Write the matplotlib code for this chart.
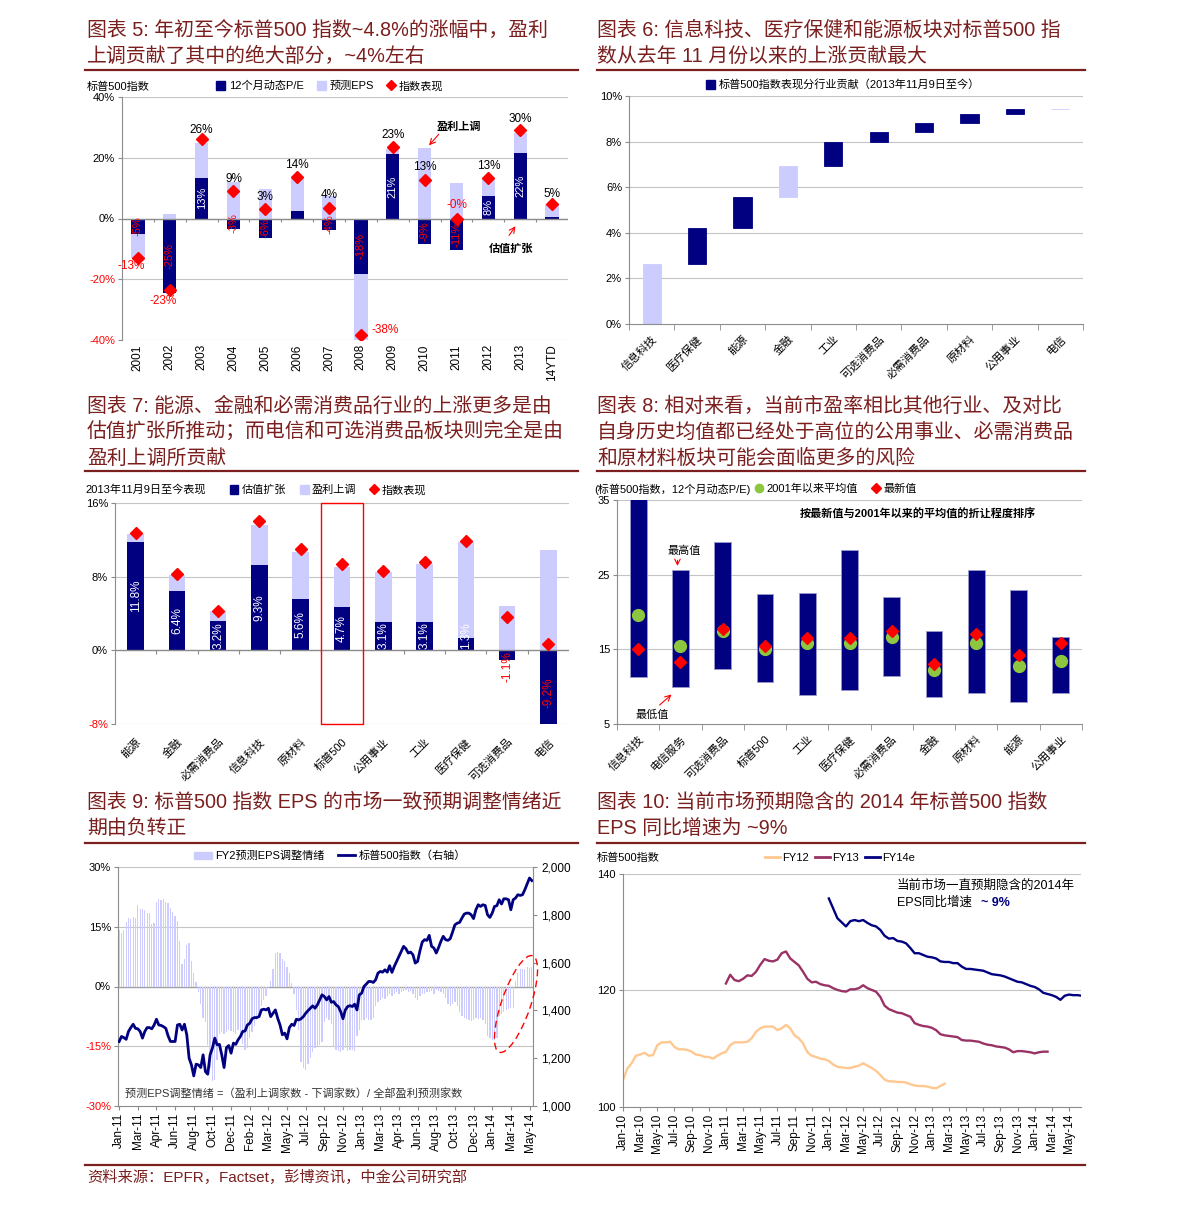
import numpy as np
import pandas as pd
import matplotlib
matplotlib.use('Agg')
import matplotlib.pyplot as plt
from matplotlib.patches import Rectangle, Ellipse, Patch
from matplotlib.lines import Line2D

plt.rcParams['font.family'] = ['Liberation Sans', 'Noto Sans CJK SC', 'DejaVu Sans']
plt.rcParams['axes.unicode_minus'] = False

# ------------------------------------------------------------------ data
title5 = ["图表 5: 年初至今标普500 指数~4.8%的涨幅中，盈利", "上调贡献了其中的绝大部分，~4%左右"]
title6 = ["图表 6: 信息科技、医疗保健和能源板块对标普500 指", "数从去年 11 月份以来的上涨贡献最大"]
title7 = ["图表 7: 能源、金融和必需消费品行业的上涨更多是由", "估值扩张所推动；而电信和可选消费品板块则完全是由", "盈利上调所贡献"]
title8 = ["图表 8: 相对来看，当前市盈率相比其他行业、及对比", "自身历史均值都已经处于高位的公用事业、必需消费品", "和原材料板块可能会面临更多的风险"]
title9 = ["图表 9: 标普500 指数 EPS 的市场一致预期调整情绪近", "期由负转正"]
title10 = ["图表 10: 当前市场预期隐含的 2014 年标普500 指数", "EPS 同比增速为 ~9%"]
source_txt = "资料来源：EPFR，Factset，彭博资讯，中金公司研究部"

# Panel 5
years5 = ['2001', '2002', '2003', '2004', '2005', '2006', '2007', '2008', '2009', '2010', '2011', '2012', '2013', '14YTD']
pe5 = [-5.1, -24.4, 13.3, -3.3, -6.3, 2.4, -3.9, -18.2, 21.1, -8.5, -10.4, 7.5, 21.5, 0.5]
eps5 = [-7.8, 1.4, 11.4, 12.0, 9.8, 10.7, 7.4, -21.7, 1.9, 23.2, 11.6, 5.4, 6.6, 4.2]
idx5 = [-12.9, -23.5, 26.2, 9.0, 3.0, 13.5, 3.5, -38.5, 23.5, 12.6, 0.0, 13.3, 29.3, 4.8]
pe5_lbl = ['-5%', '-25%', '13%', '-3%', '-6%', '', '-4%', '-18%', '21%', '-9%', '-11%', '8%', '22%', '']
idx5_lbl = ['-13%', '-23%', '26%', '9%', '3%', '14%', '4%', '-38%', '23%', '13%', '-0%', '13%', '30%', '5%']

# Panel 6
sect6 = ['信息科技', '医疗保健', '能源', '金融', '工业', '可选消费品', '必需消费品', '原材料', '公用事业', '电信']
contrib6 = [2.64, 1.57, 1.34, 1.37, 1.05, 0.43, 0.40, 0.40, 0.25, -0.03]

# Panel 7
sect7 = ['能源', '金融', '必需消费品', '信息科技', '原材料', '标普500', '公用事业', '工业', '医疗保健', '可选消费品', '电信']
pe7 = [11.8, 6.4, 3.2, 9.3, 5.6, 4.7, 3.1, 3.1, 1.3, -1.1, -9.2]
eps7 = [0.8, 1.8, 1.1, 4.3, 5.05, 4.4, 5.4, 6.3, 10.5, 4.8, 10.9]
idx7 = [12.7, 8.3, 4.3, 14.0, 11.0, 9.35, 8.66, 9.6, 11.9, 3.66, 0.72]

# Panel 8
sect8 = ['信息科技', '电信服务', '可选消费品', '标普500', '工业', '医疗保健', '必需消费品', '金融', '原材料', '能源', '公用事业']
pe_high8 = [35.5, 25.6, 29.4, 22.4, 22.6, 28.3, 22.0, 17.4, 25.6, 23.0, 16.7]
pe_low8 = [11.25, 9.9, 12.3, 10.6, 8.9, 9.6, 11.4, 8.6, 9.2, 7.9, 9.1]
avg8 = [19.6, 15.5, 17.5, 15.0, 15.9, 15.9, 16.65, 12.2, 15.9, 12.8, 13.5]
latest8 = [15.1, 13.3, 17.7, 15.4, 16.5, 16.5, 17.4, 13.0, 17.0, 14.3, 15.8]

# Panel 9 (weekly, from 2011-01-07)
sentiment9 = [
    14.2, 13.5, 14.3, 16.3, 17.1, 16.9, 17.4, 17.1,
    20.5, 19.4, 19.4, 19.2, 18.4, 18.4, 15.8, 16.0,
    21.3, 21.9, 21.7, 21.9, 21.3, 20.9, 19.6, 18.8,
    17.8, 16.5, 11.5, 5.7, 6.9, 10.4, 10.8, 6.4,
    3.3, 1.2, -1.5, -4.5, -7.8, -8.9, -14.8, -20.5,
    -23.8, -23.5, -18.5, -12.0, -11.5, -11.8, -11.5, -11.0,
    -11.2, -11.5, -12.0, -11.0, -13.0, -14.5, -16.0, -15.5,
    -13.0, -11.5, -10.0, -8.5, -8.0, -5.0, -3.5, -2.5,
    -0.5, 1.5, 4.5, 8.3, 8.7, 8.5, 7.0, 6.5,
    5.0, 3.5, 1.0, -2.0, -6.0, -11.0, -19.0, -20.5,
    -21.0, -19.5, -18.0, -16.5, -15.5, -15.0, -14.8, -14.0,
    -9.0, -8.0, -8.5, -9.5, -15.0, -16.0, -16.3, -16.5,
    -16.0, -15.5, -16.2, -16.0, -16.0, -16.2, -12.5, -11.0,
    -8.5, -8.5, -8.0, -8.5, -8.5, -8.0, -5.0, -3.8,
    -3.5, -3.0, -3.2, -2.5, -2.0, -2.5, -2.0, -1.5,
    -1.8, -1.5, -1.2, -1.0, -1.5, -1.2, -2.0, -3.0,
    -3.5, -2.5, -2.0, -1.8, -1.5, -1.5, -1.2, -1.8,
    -1.0, -1.2, -1.5, -2.0, -3.0, -4.5, -5.0, -4.5,
    -4.0, -5.0, -6.5, -7.5, -8.0, -8.2, -8.5, -8.7,
    -8.5, -8.0, -8.2, -7.8, -8.5, -9.5, -12.5, -13.0,
    -13.5, -13.5, -13.0, -7.5, -7.0, -6.5, -6.0, -5.7,
    -5.5, -5.5, 1.5, 3.3, 4.3, 4.5, 4.3, 4.8,
    4.7, 4.8]
spx9 = [
    1270, 1291, 1286, 1279, 1312, 1328, 1342, 1325,
    1323, 1312, 1284, 1312, 1328, 1328, 1323, 1339,
    1363, 1339, 1337, 1332, 1325, 1293, 1270, 1270,
    1270, 1339, 1342, 1318, 1342, 1298, 1200, 1172,
    1126, 1175, 1172, 1161, 1214, 1144, 1133, 1214,
    1242, 1284, 1256, 1258, 1214, 1161, 1244, 1253,
    1221, 1263, 1258, 1277, 1291, 1312, 1314, 1339,
    1346, 1365, 1370, 1370, 1374, 1402, 1405, 1402,
    1409, 1374, 1388, 1402, 1367, 1339, 1298, 1305,
    1281, 1328, 1342, 1337, 1363, 1360, 1365, 1374,
    1388, 1399, 1409, 1419, 1409, 1423, 1444, 1465,
    1458, 1444, 1458, 1434, 1437, 1423, 1416, 1395,
    1365, 1402, 1416, 1420, 1416, 1426, 1402, 1465,
    1472, 1500, 1510, 1521, 1521, 1517, 1528, 1556,
    1563, 1560, 1570, 1560, 1587, 1559, 1584, 1605,
    1626, 1647, 1668, 1658, 1640, 1644, 1633, 1598,
    1605, 1649, 1686, 1696, 1693, 1714, 1668, 1661,
    1640, 1663, 1689, 1710, 1696, 1693, 1700, 1728,
    1758, 1765, 1768, 1786, 1803, 1807, 1807, 1800,
    1784, 1821, 1842, 1835, 1842, 1839, 1800, 1789,
    1807, 1835, 1838, 1863, 1845, 1867, 1867, 1863,
    1821, 1863, 1870, 1884, 1881, 1884, 1905, 1929,
    1954, 1943]
xlabels9 = ['Jan-11', 'Mar-11', 'Apr-11', 'Jun-11', 'Aug-11', 'Oct-11', 'Dec-11', 'Feb-12', 'Mar-12',
            'May-12', 'Jul-12', 'Sep-12', 'Nov-12', 'Jan-13', 'Mar-13', 'Apr-13', 'Jun-13', 'Aug-13',
            'Oct-13', 'Dec-13', 'Jan-14', 'Mar-14', 'May-14']

# Panel 10 (semi-monthly readings; months counted from Jan-10)
fy12_start, fy13_start, fy14_start = '2010-01', '2011-01', '2012-01'
fy12 = [104.6, 106.6, 107.5, 108.8, 109.0, 109.3, 108.8, 108.9, 110.6, 111.1,
        111.1, 111.2, 110.3, 109.9, 109.9, 109.8, 109.5, 109.0, 108.9, 108.6,
        108.6, 108.3, 108.8, 109.2, 109.5, 110.6, 111.1, 111.1, 111.1, 111.2,
        111.8, 112.9, 113.5, 113.8, 113.8, 113.8, 113.2, 113.5, 114.1, 113.5,
        112.3, 111.8, 110.9, 109.4, 108.8, 108.6, 108.3, 108.2, 107.9, 107.3,
        106.9, 106.8, 106.7, 106.7, 106.9, 107.1, 107.5, 107.1, 106.7, 106.2,
        105.5, 104.7, 104.4, 104.4, 104.3, 104.3, 104.2, 103.9, 103.7, 103.6,
        103.6, 103.5, 103.3, 103.2, 103.6, 104.0]
fy13 = [121.2, 122.7, 121.8, 121.6, 122.0, 122.6, 122.5, 123.2, 124.4, 125.4,
        125.1, 125.0, 125.3, 126.4, 126.7, 125.5, 124.9, 124.3, 123.2, 122.0,
        121.4, 121.5, 121.1, 120.9, 120.8, 120.4, 120.1, 119.9, 119.8, 120.2,
        120.2, 120.4, 120.9, 120.4, 120.1, 119.8, 118.9, 117.4, 116.8, 116.5,
        116.2, 116.1, 115.8, 115.5, 114.4, 114.1, 113.9, 113.8, 113.6, 113.2,
        112.5, 112.3, 112.2, 112.1, 112.0, 111.5, 111.4, 111.4, 111.3, 111.2,
        110.9, 110.7, 110.6, 110.4, 110.3, 110.2, 109.9, 109.4, 109.6, 109.6,
        109.5, 109.4, 109.2, 109.4, 109.5, 109.5]
fy14 = [135.8, 134.1, 132.4, 131.7, 131.0, 131.9, 132.1, 131.9, 132.1, 131.6,
        131.2, 131.0, 130.4, 129.4, 128.9, 129.0, 128.5, 128.4, 128.1, 127.3,
        126.4, 126.4, 126.1, 125.8, 125.7, 125.5, 125.0, 124.9, 124.9, 124.7,
        124.7, 124.1, 123.7, 123.7, 123.6, 123.5, 123.4, 123.1, 122.8, 122.7,
        122.6, 122.4, 122.1, 121.8, 121.5, 121.4, 121.1, 120.8, 120.6, 120.2,
        119.6, 119.4, 119.2, 118.9, 118.4, 119.1, 119.3, 119.2, 119.2, 119.1]
xlabels10 = [d.strftime('%b-%y') for d in pd.date_range('2010-01-01', '2014-05-01', freq='2MS')]

# ------------------------------------------------------------------ style
NAVY = '#000080'
LAV = '#CCCCFF'
RED = '#FF0000'
GREEN = '#8DC63F'
MAROON = '#7A1E1E'
GRID = '#C4C4C4'
AXC = '#8C8C8C'
TFS = 14.3
FS = 8

W, H = 1191, 1206
fig = plt.figure(figsize=(W / 100, H / 100), dpi=100)
fig.patch.set_facecolor('white')


def ax_px(x0, y0, x1, y1):
    return fig.add_axes([x0 / W, 1 - y1 / H, (x1 - x0) / W, (y1 - y0) / H])


def ftext(x, y, s, **kw):
    kw.setdefault('va', 'center')
    return fig.text(x / W, 1 - y / H, s, **kw)


def hline(x0, x1, y, lw=1.6):
    fig.add_artist(Line2D([x0 / W, x1 / W], [1 - y / H, 1 - y / H], color=MAROON, lw=lw))


def base(ax, ylim, yticks, fmt, grid_vals=None, neg_red=True):
    ax.set_ylim(*ylim)
    ax.set_yticks(yticks)
    ax.set_yticklabels([fmt(v) for v in yticks], fontsize=FS)
    if neg_red:
        for lab, v in zip(ax.get_yticklabels(), yticks):
            if v < 0:
                lab.set_color(RED)
    for s in ['top', 'right', 'bottom']:
        ax.spines[s].set_visible(False)
    ax.spines['left'].set_color(AXC)
    ax.tick_params(axis='y', length=3, color=AXC, pad=2)
    ax.tick_params(axis='x', length=0, pad=3)
    for v in (yticks if grid_vals is None else grid_vals):
        ax.axhline(v, color=GRID, lw=0.8, zorder=0)


def fleg(handles, labels, x, y, **kw):
    opts = dict(handlelength=0.8, handleheight=0.8, handletextpad=0.3, columnspacing=1.2)
    opts.update(kw)
    fig.legend(handles, labels, loc='center', bbox_to_anchor=(x / W, 1 - y / H), ncol=len(labels),
               frameon=False, fontsize=FS, borderaxespad=0, **opts)


# ------------------------------------------------------------------ titles / rules
for i, s in enumerate(title5):
    ftext(87, 30 + 26 * i, s, fontsize=TFS, color=MAROON)
for i, s in enumerate(title6):
    ftext(597, 30 + 26 * i, s, fontsize=TFS, color=MAROON)
for i, s in enumerate(title7):
    ftext(87, 406 + 26 * i, s, fontsize=TFS, color=MAROON)
for i, s in enumerate(title8):
    ftext(597, 406 + 26 * i, s, fontsize=TFS, color=MAROON)
for i, s in enumerate(title9):
    ftext(87, 802 + 26 * i, s, fontsize=TFS, color=MAROON)
for i, s in enumerate(title10):
    ftext(597, 802 + 26 * i, s, fontsize=TFS, color=MAROON)
for y in (70, 471, 843):
    hline(85, 578, y)
    hline(597, 1085, y)
hline(85, 1085, 1165)
ftext(87, 1177, source_txt, fontsize=11, color=MAROON)

# ------------------------------------------------------------------ panel 5
ax5 = ax_px(122, 97, 568, 340)
x5 = np.arange(len(years5))
pe5a, eps5a = np.array(pe5), np.array(eps5)
eps_bot = np.where(np.sign(eps5a) == np.sign(pe5a), pe5a, 0)
ax5.bar(x5, pe5a, width=0.42, color=NAVY, zorder=2)
ax5.bar(x5, eps5a, bottom=eps_bot, width=0.42, color=LAV, zorder=2)
ax5.plot(x5, idx5, 'D', color=RED, ms=6.5, zorder=4)
ax5.set_xlim(-0.5, len(years5) - 0.5)
base(ax5, (-40, 40), [-40, -20, 0, 20, 40], lambda v: f'{v}%')
ax5.axhline(0, color=AXC, lw=1, zorder=3)
ax5.vlines(np.arange(0.5, len(years5) - 1, 1), -1.3, 0, color=AXC, lw=0.8, zorder=3)
ax5.set_xticks(x5)
ax5.set_xticklabels(years5, rotation=90, fontsize=FS + 0.5)
for i, (v, l) in enumerate(zip(pe5, pe5_lbl)):
    if l:
        ax5.text(i, v / 2, l, rotation=90, ha='center', va='center', fontsize=FS,
                 color='white' if v > 0 else RED, zorder=5)
dx5 = [-0.2, -0.2, 0, 0, 0, 0, 0, 0.75, 0, 0, 0, 0, 0, 0]
dy5 = [-2.8, -3.8, 3.0, 4.0, 4.0, 4.0, 4.2, 1.7, 4.0, 4.5, 4.4, 4.0, 3.5, 3.2]
for i, l in enumerate(idx5_lbl):
    ax5.text(i + dx5[i], idx5[i] + dy5[i], l, ha='center', va='center', fontsize=FS + 0.5,
             color=RED if l.startswith('-') else 'black', zorder=5)
ax5.text(10.08, 30.1, '盈利上调', ha='center', va='center', fontsize=FS, fontweight='bold')
ax5.annotate('', xy=(9.08, 23.4), xytext=(9.5, 28.4),
             arrowprops=dict(arrowstyle='->', color=RED, lw=0.8))
ax5.text(11.71, -10.0, '估值扩张', ha='center', va='center', fontsize=FS, fontweight='bold')
ax5.annotate('', xy=(11.9, -1.8), xytext=(11.6, -6.3),
             arrowprops=dict(arrowstyle='->', color=RED, lw=0.8))
ftext(87, 87, '标普500指数', fontsize=FS)
fleg([Patch(color=NAVY), Patch(color=LAV), Line2D([], [], marker='D', color=RED, ls='none', ms=5)],
     ['12个月动态P/E', '预测EPS', '指数表现'], 330, 86)

# ------------------------------------------------------------------ panel 6
ax6 = ax_px(629, 96, 1083, 324)
x6 = np.arange(len(sect6))
c6 = np.array(contrib6)
cum6 = np.cumsum(c6)
colors6 = [LAV, NAVY, NAVY, LAV, NAVY, NAVY, NAVY, NAVY, NAVY, LAV]
ax6.bar(x6, c6, bottom=cum6 - c6, width=0.4, color=colors6, edgecolor=colors6, lw=0.6, zorder=2)
ax6.set_xlim(-0.5, len(sect6) - 0.5)
base(ax6, (0, 10), [0, 2, 4, 6, 8, 10], lambda v: f'{v}%', grid_vals=[2, 4, 6, 8, 10])
ax6.spines['bottom'].set_visible(True)
ax6.spines['bottom'].set_color(AXC)
ax6.set_xticks(x6)
ax6.set_xticklabels(sect6, rotation=45, ha='right', rotation_mode='anchor', fontsize=FS)
ax6.set_xticks(np.arange(-0.5, len(sect6), 1), minor=True)
ax6.tick_params(axis='x', which='minor', length=4, color=AXC)
ax6.tick_params(axis='x', which='major', pad=7)
fleg([Patch(color=NAVY)], ['标普500指数表现分行业贡献（2013年11月9日至今）'], 843, 85)

# ------------------------------------------------------------------ panel 7
ax7 = ax_px(115, 503, 569, 724)
x7 = np.arange(len(sect7))
pe7a, eps7a = np.array(pe7), np.array(eps7)
eps7_bot = np.where(pe7a > 0, pe7a, 0)
ax7.bar(x7, pe7a, width=0.4, color=NAVY, zorder=2)
ax7.bar(x7, eps7a, bottom=eps7_bot, width=0.4, color=LAV, zorder=2)
ax7.plot(x7, idx7, 'D', color=RED, ms=6.5, zorder=4)
ax7.set_xlim(-0.5, len(sect7) - 0.5)
base(ax7, (-8, 16), [-8, 0, 8, 16], lambda v: f'{v}%', grid_vals=[-8, 8, 16])
ax7.axhline(0, color=AXC, lw=1, zorder=3)
ax7.vlines(np.arange(0.5, len(sect7) - 1, 1), -0.4, 0, color=AXC, lw=0.8, zorder=3)
for i, v in enumerate(pe7):
    y = max(v / 2, 1.55) if v > 0 else min(v / 2, -1.75)
    ax7.text(i, y, f'{v:.1f}%', rotation=90, ha='center', va='center', fontsize=FS + 0.5,
             color='white' if v > 0 else RED, zorder=5)
ax7.add_patch(Rectangle((4.5, -8), 1, 24, fill=False, edgecolor=RED, lw=1, zorder=6, clip_on=False))
ax7.set_xticks(x7)
ax7.set_xticklabels(sect7, rotation=45, ha='right', rotation_mode='anchor', fontsize=FS)
ax7.tick_params(axis='x', which='major', pad=9)
ftext(85, 489, '2013年11月9日至今表现', fontsize=FS)
fleg([Patch(color=NAVY), Patch(color=LAV), Line2D([], [], marker='D', color=RED, ls='none', ms=5)],
     ['估值扩张', '盈利上调', '指数表现'], 328, 490)

# ------------------------------------------------------------------ panel 8
ax8 = ax_px(617, 500, 1082, 724)
x8 = np.arange(len(sect8))
hi8, lo8 = np.array(pe_high8), np.array(pe_low8)
ax8.bar(x8, hi8 - lo8, bottom=lo8, width=0.4, color=NAVY, edgecolor='#9A9ACC', lw=0.6, zorder=2)
ax8.plot(x8, avg8, 'o', color=GREEN, ms=8.5, zorder=3)
ax8.plot(x8, latest8, 'D', color=RED, ms=6.5, zorder=4)
ax8.set_xlim(-0.5, len(sect8) - 0.5)
base(ax8, (5, 35), [5, 15, 25, 35], lambda v: f'{v}', grid_vals=[15, 25, 35], neg_red=False)
ax8.spines['bottom'].set_visible(True)
ax8.spines['bottom'].set_color(AXC)
ax8.set_xticks(x8)
ax8.set_xticklabels(sect8, rotation=45, ha='right', rotation_mode='anchor', fontsize=FS)
ax8.set_xticks(np.arange(-0.5, len(sect8), 1), minor=True)
ax8.tick_params(axis='x', which='minor', length=4, color=AXC)
ax8.tick_params(axis='x', which='major', pad=7)
ax8.text(1.1, 28.2, '最高值', ha='center', va='center', fontsize=FS)
ax8.annotate('', xy=(0.93, 25.8), xytext=(0.93, 27.3), arrowprops=dict(arrowstyle='->', color=RED, lw=0.8))
ax8.text(0.34, 6.2, '最低值', ha='center', va='center', fontsize=FS)
ax8.annotate('', xy=(0.84, 9.2), xytext=(0.46, 7.3), arrowprops=dict(arrowstyle='->', color=RED, lw=0.8))
ftext(918, 513, '按最新值与2001年以来的平均值的折让程度排序', fontsize=FS, fontweight='bold', ha='center')
ftext(594, 489, '(标普500指数，12个月动态P/E)', fontsize=FS)
fleg([Line2D([], [], marker='o', color=GREEN, ls='none', ms=6),
      Line2D([], [], marker='D', color=RED, ls='none', ms=5)],
     ['2001年以来平均值', '最新值'], 836, 489)

# ------------------------------------------------------------------ panel 9
ax9 = ax_px(118, 867, 533, 1106)
x9 = np.arange(len(sentiment9))
ax9.bar(x9, sentiment9, width=0.55, color=LAV, zorder=2)
ax9.set_xlim(-0.5, len(sentiment9) - 0.5)
base(ax9, (-30, 30), [-30, -15, 0, 15, 30], lambda v: f'{v}%', grid_vals=[-15, 15, 30])
ax9.axhline(0, color='#A0A0A0', lw=1, zorder=1)
ax9.spines['bottom'].set_visible(True)
ax9.spines['bottom'].set_color(AXC)
ax9.set_xticks(np.arange(0, len(sentiment9), 8)[:len(xlabels9)])
ax9.set_xticklabels(xlabels9, rotation=90, fontsize=FS + 0.5)
ax9.tick_params(axis='x', length=3, color=AXC, pad=2)
ax9r = ax9.twinx()
ax9r.plot(np.arange(len(spx9)), spx9, color=NAVY, lw=2, zorder=3)
ax9r.set_ylim(1000, 2000)
ax9r.set_yticks(range(1000, 2001, 200))
ax9r.set_yticklabels([f'{v:,}' for v in range(1000, 2001, 200)], fontsize=FS + 0.5)
for s in ['top', 'left', 'bottom']:
    ax9r.spines[s].set_visible(False)
ax9r.spines['right'].set_color(AXC)
ax9r.tick_params(axis='y', length=3, color=AXC, pad=3)
ftext(125, 1094, '预测EPS调整情绪 =（盈利上调家数 - 下调家数）/ 全部盈利预测家数', fontsize=FS, color='#333333')
fig.add_artist(Ellipse((5.16, 2.02), 1.02, 0.29, angle=71, fill=False, edgecolor=RED, lw=1,
                       ls=(0, (5, 3)), transform=fig.dpi_scale_trans))
fleg([Patch(color=LAV), Line2D([], [], color=NAVY, lw=2)],
     ['FY2预测EPS调整情绪', '标普500指数（右轴）'], 330, 856, handlelength=1.6, handleheight=0.7)

# ------------------------------------------------------------------ panel 10
ax10 = ax_px(623, 874, 1081, 1107)
t0 = pd.Period('2010-01', 'M')


def mpos(start, n):
    return (pd.Period(start, 'M') - t0).n + 0.5 * np.arange(n)


ax10.plot(mpos(fy12_start, len(fy12)), fy12, color='#FFC891', lw=1.7)
ax10.plot(mpos(fy13_start, len(fy13)), fy13, color='#993366', lw=1.7)
ax10.plot(mpos(fy14_start, len(fy14)), fy14, color=NAVY, lw=1.7)
ax10.set_xlim(0, 53.4)
base(ax10, (100, 140), [100, 120, 140], lambda v: f'{v}', grid_vals=[120, 140], neg_red=False)
ax10.spines['bottom'].set_visible(True)
ax10.spines['bottom'].set_color(AXC)
ax10.set_xticks(np.arange(0, 2 * len(xlabels10), 2))
ax10.set_xticklabels(xlabels10, rotation=90, fontsize=FS + 0.5)
ax10.tick_params(axis='x', length=3, color=AXC, pad=2)
ftext(597, 858, '标普500指数', fontsize=FS)
fleg([Line2D([], [], color='#FFC891', lw=2), Line2D([], [], color='#993366', lw=2),
      Line2D([], [], color=NAVY, lw=2)], ['FY12', 'FY13', 'FY14e'], 840, 858,
     handlelength=1.3, columnspacing=0.6, handletextpad=0.2)
ftext(897, 886, '当前市场一直预期隐含的2014年', fontsize=FS + 1)
ftext(897, 903, 'EPS同比增速', fontsize=FS + 1)
ftext(981, 903, '~ 9%', fontsize=FS + 1, color=NAVY, fontweight='bold')

fig.savefig('out.png', dpi=100, facecolor='white')
